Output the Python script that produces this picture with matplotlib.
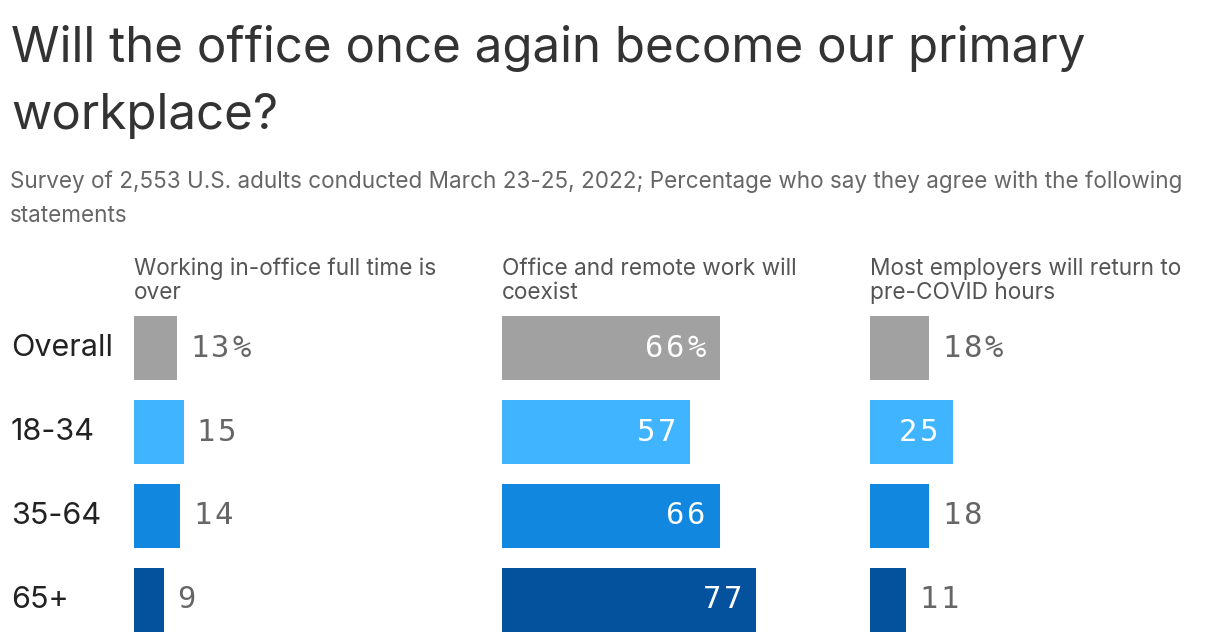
import matplotlib
matplotlib.use("Agg")
import matplotlib.pyplot as plt

# data
groups = ["Overall", "18-34", "35-64", "65+"]
panel_titles = ["Working in-office full time is\nover",
                "Office and remote work will\ncoexist",
                "Most employers will return to\npre-COVID hours"]
in_office_over = [13, 15, 14, 9]
coexist = [66, 57, 66, 77]
return_hours = [18, 25, 18, 11]
colors = ["#a1a1a1", "#41b4ff", "#1287e0", "#04519e"]

W, H = 1220, 642
fig = plt.figure(figsize=(W / 100, H / 100), dpi=100)
sans = ["Inter", "DejaVu Sans"]
mono = ["DejaVu Sans Mono"]
PT = 0.72  # points per pixel at dpi 100
CELL = 21  # px per character of the value labels


def fx(px):
    return px / W


def fy(py):
    return 1 - py / H


def spaced_label(ax, x, y, s, inside):
    n = len(s)
    for k, ch in enumerate(s):
        if inside:
            off = -13 - (n - 1 - k) * CELL - CELL / 2
            col = "white"
        else:
            off = 12 + k * CELL + CELL / 2
            col = "#666666"
        ax.annotate(ch, (x, y), xytext=(off * PT, 0), textcoords="offset points",
                    ha="center", va="center", fontfamily=mono, fontsize=22,
                    color=col)


fig.text(fx(11), fy(62), "Will the office once again become our primary",
         fontsize=35.5, fontfamily=sans, color="#333333", va="baseline")
fig.text(fx(11), fy(129), "workplace?",
         fontsize=35.5, fontfamily=sans, color="#333333", va="baseline")
fig.text(fx(10), fy(188), "Survey of 2,553 U.S. adults conducted March 23-25, 2022; Percentage who say they agree with the following",
         fontsize=16.2, fontfamily=sans, color="#666666", va="baseline")
fig.text(fx(10), fy(222), "statements",
         fontsize=16.2, fontfamily=sans, color="#666666", va="baseline")

panels = [in_office_over, coexist, return_hours]
x0s = [134, 502, 870]
for i, (vals, title) in enumerate(zip(panels, panel_titles)):
    ax = fig.add_axes([fx(x0s[i]), fy(632), fx(330), 316 / H])
    ax.barh(range(len(groups)), vals, height=64 / 84, color=colors)
    ax.set_xlim(0, 100)
    ax.set_ylim(len(groups) - 1 + 0.381, -0.381)
    ax.axis("off")
    for j, v in enumerate(vals):
        txt = f"{v}%" if j == 0 else str(v)
        spaced_label(ax, v, j, txt, v >= 20)
    lines = title.split("\n")
    fig.text(fx(x0s[i]), fy(275), lines[0], fontsize=16.3, fontfamily=sans,
             color="#555555", va="baseline")
    fig.text(fx(x0s[i]), fy(299), lines[1], fontsize=16.3, fontfamily=sans,
             color="#555555", va="baseline")

for j, g in enumerate(groups):
    fig.text(fx(11), fy(348 + 84 * j), g, fontsize=22, fontfamily=sans,
             color="#222222", va="center")

fig.savefig("out.png", dpi=100)
